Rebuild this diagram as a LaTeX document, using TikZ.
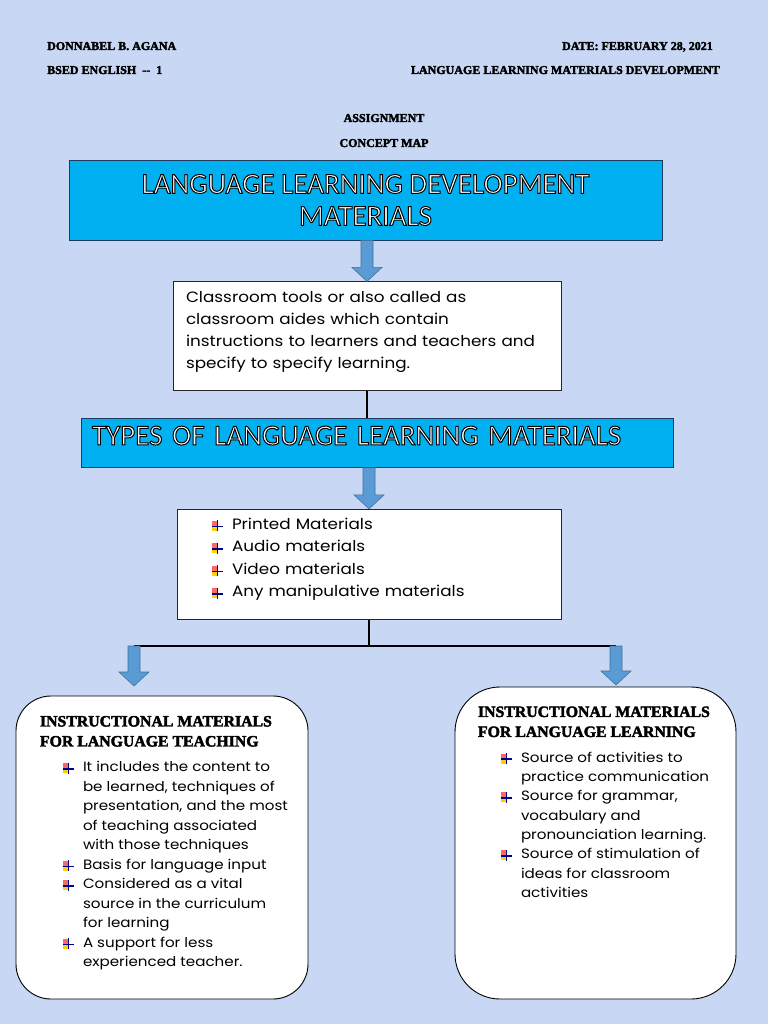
\documentclass[tikz,border=0pt]{standalone}
\usepackage{fontspec}
\setmainfont[FakeStretch=1.12]{Poppins}
\newfontfamily\hdrfont[FakeBold=2.5]{Liberation Serif}
\newfontfamily\ttlfont{Carlito}
\newfontfamily\capfont[FakeBold=2.5]{Liberation Serif}
\usepackage{tikz}
\usetikzlibrary{positioning, calc}
\definecolor{paper}    {HTML}{C7D7F4}
\definecolor{skyfill}  {HTML}{00B0F0}
\definecolor{skyedge}  {HTML}{1F3A5F}
\definecolor{arrowfill}{HTML}{5B9BD5}
\definecolor{arrowedge}{HTML}{41719C}

% white letters with a dark rim
\newcommand\outlined[1]{{\color{white}\special{pdf:literal direct 0 G 1 w 2 Tr}#1\special{pdf:literal direct 0 Tr}}}
% little cross bullet
\newcommand\bul{\tikz[baseline=-3.5pt, sharp corners]{%
  \fill[red!60] (-5pt,-0.5pt) rectangle (0pt,5pt);
  \fill[yellow!70!orange] (-5pt,-5pt) rectangle (0pt,-0.5pt);
  \draw[blue!55!black, line width=1.7pt] (-5.5pt,-0.5pt) -- (5.5pt,-0.5pt) (0pt,-5.5pt) -- (0pt,5.5pt);}}
\newcommand\bitem[1]{\par\noindent\hspace*{22pt}\makebox[21pt][l]{\bul}\mbox{#1}}
\newcommand\bcont[1]{\par\noindent\hspace*{43pt}\mbox{#1}}
% block arrow from a point down to the x of a target
\newcommand\blkarrow[2]{\draw[blockarrow] let \p1=(#1), \p2=(#2) in
  (\x2-6,\y1) -- (\x2+6,\y1) -- (\x2+6,\y2+14) -- (\x2+15,\y2+14) -- (\x2,\y2)
  -- (\x2-15,\y2+14) -- (\x2-6,\y2+14) -- cycle;}

\begin{document}
\begin{tikzpicture}[x=1pt, y=-1pt,
    hdr/.style={inner sep=0pt, font=\hdrfont\bfseries\fontsize{12}{14}\selectfont},
    titlebox/.style={draw=skyedge, fill=skyfill, line width=0.8pt, font=\ttlfont\fontsize{29}{32}\selectfont},
    plainbox/.style={draw=black!85, fill=white, line width=0.7pt},
    roundbox/.style={draw=black, fill=white, line width=0.9pt},
    stem/.style={line width=1.4pt},
    blockarrow/.style={fill=arrowfill, draw=arrowedge, line width=0.6pt}]
  \useasboundingbox[fill=paper] (0,0) rectangle (768,1024);

  % heading lines
  \node[hdr, anchor=base west] (author) at (47,50) {DONNABEL B. AGANA};
  \node[hdr, anchor=base east] (date) at (713,50) {DATE: FEBRUARY 28, 2021};
  \node[hdr, anchor=base west] (course) at (47,74) {BSED ENGLISH~~--~~1};
  \node[hdr, anchor=base east] (subject) at (720,74) {LANGUAGE LEARNING MATERIALS DEVELOPMENT};
  \node[hdr, anchor=base] (assign) at (384,122) {ASSIGNMENT};
  \node[hdr, anchor=base] (cmap) at (384,147) {CONCEPT MAP};

  % main chain
  \node[titlebox, minimum width=593pt, minimum height=80pt, align=center] (t1) at (365.5,200)
    {\outlined{LANGUAGE LEARNING DEVELOPMENT}\\\outlined{MATERIALS}};
  \node[plainbox, below=41pt of t1, xshift=1.5pt, minimum width=388pt, minimum height=109pt,
        inner xsep=13pt, text width=362pt, align=left, font=\fontsize{15}{22}\selectfont] (b2)
    {Classroom tools or also called as\\ classroom aides which contain\\
     instructions to learners and teachers and\\ specify to specify learning.\rule[-12pt]{0pt}{12pt}};
  \node[titlebox, below=27pt of b2, xshift=10pt, minimum height=49pt, inner xsep=11pt,
        text width=570pt, align=left] (t2)
    {\outlined{TYPES OF LANGUAGE LEARNING MATERIALS}\rule[-15pt]{0pt}{15pt}};
  \node[plainbox, below=41pt of t2, xshift=-8pt, minimum width=384pt, minimum height=110pt,
        inner xsep=34pt, text width=316pt, align=left, font=\fontsize{15}{22.5}\selectfont] (b3)
    {\makebox[21pt][l]{\bul}Printed Materials\\ \makebox[21pt][l]{\bul}Audio materials\\
     \makebox[21pt][l]{\bul}Video materials\\
     \makebox[21pt][l]{\bul}Any manipulative materials\rule[-13.5pt]{0pt}{13.5pt}};

  % the two kinds
  \node[roundbox, rounded corners=35pt, inner xsep=24pt, inner ysep=20pt] (lb) at (162,847.5)
    {\begin{minipage}[t][263pt][t]{244pt}\raggedright
      {\capfont\bfseries\fontsize{15.8}{20}\selectfont INSTRUCTIONAL MATERIALS\\FOR LANGUAGE TEACHING\par}
      \vspace{6pt}\fontsize{13.5}{19.5}\selectfont
      \bitem{It includes the content to}
      \bcont{be learned, techniques of}
      \bcont{presentation, and the most}
      \bcont{of teaching associated}
      \bcont{with those techniques}
      \bitem{Basis for language input}
      \bitem{Considered as a vital}
      \bcont{source in the curriculum}
      \bcont{for learning}
      \bitem{A support for less}
      \bcont{experienced teacher.}
    \end{minipage}};
  \node[roundbox, rounded corners=45pt, inner xsep=23pt, inner ysep=19.5pt] (rb) at (595.5,843)
    {\begin{minipage}[t][273pt][t]{235pt}\raggedright
      {\capfont\bfseries\fontsize{15.8}{20}\selectfont INSTRUCTIONAL MATERIALS\\FOR LANGUAGE LEARNING\par}
      \vspace{6pt}\fontsize{13.5}{19.3}\selectfont
      \bitem{Source of activities to}
      \bcont{practice communication}
      \bitem{Source for grammar,}
      \bcont{vocabulary and}
      \bcont{pronounciation learning.}
      \bitem{Source of stimulation of}
      \bcont{ideas for classroom}
      \bcont{activities}
    \end{minipage}};

  % connectors
  \coordinate (split) at (369,646);
  \coordinate (lft) at (134,646);
  \coordinate (rgt) at (616,646);
  \coordinate (ltip) at (134,686);
  \coordinate (rtip) at (616,685);
  \draw[stem] (b2.south) -- (b2.south |- t2.north);
  \draw[stem] (b3.south) -- (b3.south |- split);
  \draw[stem] (lft) -- (rgt);
  \blkarrow{t1.south}{b2.north}
  \blkarrow{t2.south}{b3.north}
  \blkarrow{lft}{ltip}
  \blkarrow{rgt}{rtip}
\end{tikzpicture}
\end{document}
